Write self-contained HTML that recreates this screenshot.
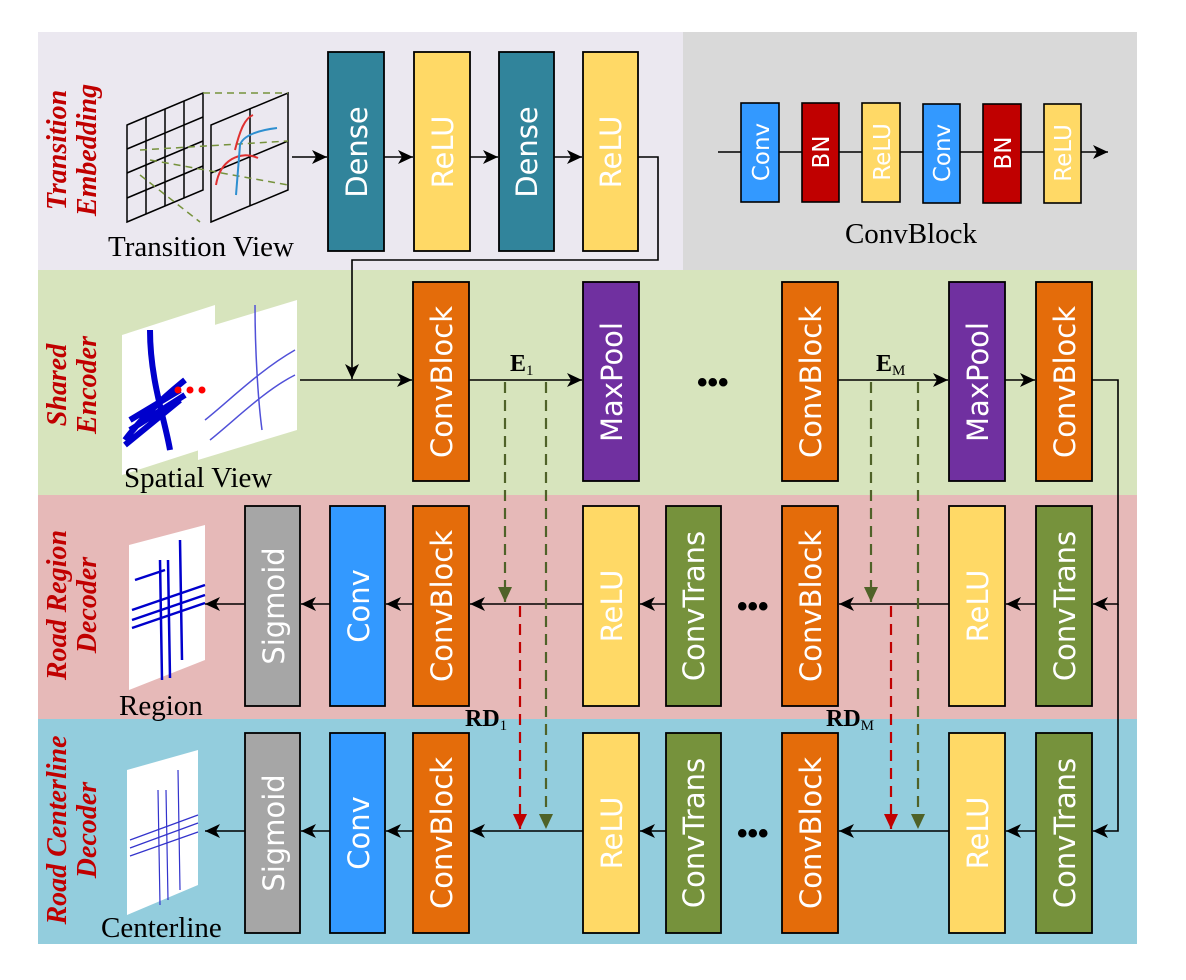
<!DOCTYPE html>
<html><head><meta charset="utf-8"><style>
html,body{margin:0;padding:0;background:#fff;}
svg{display:block}
.bt{font-family:"DejaVu Sans","Liberation Sans",sans-serif;fill:#fff;font-size:29px;}
.st{font-family:"DejaVu Sans","Liberation Sans",sans-serif;fill:#fff;font-size:23px;}
.lab{font-family:"Liberation Serif",serif;font-size:29px;fill:#000;}
.side{font-family:"Liberation Serif",serif;font-size:28px;font-weight:bold;font-style:italic;fill:#c00000;}
</style></head><body>
<svg width="1186" height="980" viewBox="0 0 1186 980" xmlns="http://www.w3.org/2000/svg">
<defs>
<marker id="ab" markerWidth="16" markerHeight="14" refX="15" refY="7" orient="auto" markerUnits="userSpaceOnUse"><path d="M0,0 L15,7 L0,14 L4,7z" fill="#000"/></marker>
<marker id="ag" markerWidth="16" markerHeight="14" refX="15" refY="7" orient="auto" markerUnits="userSpaceOnUse"><path d="M0,0 L15,7 L0,14z" fill="#4f6228"/></marker>
<marker id="ar" markerWidth="16" markerHeight="14" refX="15" refY="7" orient="auto" markerUnits="userSpaceOnUse"><path d="M0,0 L15,7 L0,14z" fill="#c00000"/></marker>
</defs>
<rect x="38" y="32" width="645" height="238" fill="#ebe8f0"/>
<rect x="683" y="32" width="454" height="238" fill="#d9d9d9"/>
<rect x="38" y="270" width="1099" height="225" fill="#d7e4bd"/>
<rect x="38" y="495" width="1099" height="224" fill="#e6b9b8"/>
<rect x="38" y="719" width="1099" height="225" fill="#93cddd"/>

<text class="side" transform="translate(66,150) rotate(-90)" text-anchor="middle">Transition</text>
<text class="side" transform="translate(96,150) rotate(-90)" text-anchor="middle">Embedding</text>
<text class="side" transform="translate(66,385) rotate(-90)" text-anchor="middle">Shared</text>
<text class="side" transform="translate(96,385) rotate(-90)" text-anchor="middle">Encoder</text>
<text class="side" transform="translate(66,605) rotate(-90)" text-anchor="middle">Road Region</text>
<text class="side" transform="translate(96,605) rotate(-90)" text-anchor="middle">Decoder</text>
<text class="side" transform="translate(66,830) rotate(-90)" text-anchor="middle">Road Centerline</text>
<text class="side" transform="translate(96,830) rotate(-90)" text-anchor="middle">Decoder</text>

<!-- transition view grids -->
<g stroke="#000" stroke-width="1.5" fill="none">
<path d="M127,222 L203,190 L203,93 L127,125 Z"/>
<path d="M146,117 L146,214 M165,109 L165,206 M184,101 L184,198 M127,149 L203,117 M127,173 L203,141 M127,198 L203,166"/>
<path d="M211,222 L288,190 L288,93 L211,125 Z"/>
<path d="M250,109 L250,206 M211,173 L288,141"/>
</g>
<g stroke="#76923c" stroke-width="1.5" stroke-dasharray="7,5" fill="none">
<path d="M203,93 L288,93 M140,150 L288,141 M150,160 L288,185 M140,175 L200,222"/>
</g>
<path d="M216,185 C220,160 240,150 258,158" stroke="#e03030" stroke-width="2" fill="none"/>
<path d="M235,150 C240,130 245,118 253,115" stroke="#e03030" stroke-width="2" fill="none"/>
<path d="M236,195 L240,145 C243,135 260,130 277,128" stroke="#2e8fd0" stroke-width="2" fill="none"/>
<text class="lab" x="108" y="256">Transition View</text>

<!-- spatial view -->
<polygon points="122,335 215,305 215,445 122,475" fill="#fff"/>
<polygon points="198,330 297,300 297,430 198,460" fill="#fff"/>
<path d="M125,440 C140,420 160,400 185,380 M130,420 L180,390 M150,330 C150,380 165,420 170,450 M125,445 L180,400 M130,430 L185,395" stroke="#0000cc" stroke-width="6" fill="none"/>
<path d="M205,420 C230,400 260,370 295,350 M210,440 C235,420 265,390 295,375 M255,305 C255,350 258,400 262,430" stroke="#5050d8" stroke-width="1.5" fill="none"/>
<circle cx="178" cy="390" r="3.5" fill="red"/><circle cx="190" cy="390" r="3.5" fill="red"/><circle cx="202" cy="390" r="3.5" fill="red"/>
<text class="lab" x="124" y="487">Spatial View</text>

<polygon points="129,545 205,525 205,660 129,690" fill="#fff"/>
<path d="M132,610 L205,585 M132,620 L205,595 M132,628 L205,603 M160,560 L162,680 M168,560 L170,678 M180,540 L182,660 M135,580 L165,570" stroke="#0000cc" stroke-width="2.5" fill="none"/>
<text class="lab" x="119" y="715">Region</text>
<polygon points="127,770 198,750 198,885 127,915" fill="#fff"/>
<path d="M130,840 L198,815 M130,848 L198,823 M130,856 L198,832 M158,790 L160,905 M166,790 L168,900 M178,770 L180,890" stroke="#3333cc" stroke-width="1.2" fill="none"/>
<text class="lab" x="101" y="937">Centerline</text>

<!-- top row -->
<g stroke="#000" stroke-width="1.8">
<rect x="328" y="52" width="56" height="199" fill="#31849b"/>
<rect x="414" y="52" width="56" height="199" fill="#ffd966"/>
<rect x="499" y="52" width="55" height="199" fill="#31849b"/>
<rect x="583" y="52" width="55" height="199" fill="#ffd966"/>
</g>
<text class="bt" transform="translate(367,152) rotate(-90)" text-anchor="middle">Dense</text>
<text class="bt" transform="translate(453,152) rotate(-90)" text-anchor="middle">ReLU</text>
<text class="bt" transform="translate(537,152) rotate(-90)" text-anchor="middle">Dense</text>
<text class="bt" transform="translate(621,152) rotate(-90)" text-anchor="middle">ReLU</text>
<g stroke="#000" stroke-width="1.6" fill="none" marker-end="url(#ab)">
<line x1="292" y1="157" x2="327" y2="157"/>
<line x1="384" y1="157" x2="413" y2="157"/>
<line x1="470" y1="157" x2="498" y2="157"/>
<line x1="554" y1="157" x2="582" y2="157"/>
<path d="M638,157 L658,157 L658,260 L352,260 L352,379"/>
</g>

<line x1="718" y1="152" x2="1108" y2="152" stroke="#000" stroke-width="1.6" marker-end="url(#ab)"/>
<g stroke="#000" stroke-width="1.6">
<rect x="741" y="103" width="38" height="99" fill="#3399ff"/>
<rect x="802" y="103" width="37" height="99" fill="#c00000"/>
<rect x="862" y="103" width="38" height="99" fill="#ffd966"/>
<rect x="923" y="104" width="37" height="99" fill="#3399ff"/>
<rect x="983" y="104" width="38" height="99" fill="#c00000"/>
<rect x="1044" y="104" width="37" height="99" fill="#ffd966"/>
</g>
<text class="st" transform="translate(769,152) rotate(-90)" text-anchor="middle">Conv</text>
<text class="st" transform="translate(829,152) rotate(-90)" text-anchor="middle">BN</text>
<text class="st" transform="translate(890,152) rotate(-90)" text-anchor="middle">ReLU</text>
<text class="st" transform="translate(950,153) rotate(-90)" text-anchor="middle">Conv</text>
<text class="st" transform="translate(1011,153) rotate(-90)" text-anchor="middle">BN</text>
<text class="st" transform="translate(1071,153) rotate(-90)" text-anchor="middle">ReLU</text>
<text class="lab" x="911" y="243" text-anchor="middle">ConvBlock</text>

<g stroke="#000" stroke-width="1.8">
<rect x="413" y="282" width="56" height="199" fill="#e46c0a"/>
<rect x="583" y="282" width="56" height="199" fill="#7030a0"/>
<rect x="782" y="282" width="56" height="199" fill="#e46c0a"/>
<rect x="949" y="282" width="56" height="199" fill="#7030a0"/>
<rect x="1036" y="282" width="56" height="199" fill="#e46c0a"/>
</g>
<text class="bt" transform="translate(452,382) rotate(-90)" text-anchor="middle">ConvBlock</text>
<text class="bt" transform="translate(622,382) rotate(-90)" text-anchor="middle">MaxPool</text>
<text class="bt" transform="translate(821,382) rotate(-90)" text-anchor="middle">ConvBlock</text>
<text class="bt" transform="translate(988,382) rotate(-90)" text-anchor="middle">MaxPool</text>
<text class="bt" transform="translate(1075,382) rotate(-90)" text-anchor="middle">ConvBlock</text>
<g stroke="#000" stroke-width="1.6" fill="none" marker-end="url(#ab)">
<line x1="300" y1="380" x2="412" y2="380"/>
<line x1="469" y1="380" x2="582" y2="380"/>
<line x1="838" y1="380" x2="948" y2="380"/>
<line x1="1005" y1="380" x2="1035" y2="380"/>
<path d="M1092,380 L1118,380 L1118,604 L1093,604"/>
<path d="M1118,604 L1118,831 L1093,831"/>
</g>
<text x="510" y="371" font-family="Liberation Serif,serif" font-size="24" font-weight="bold">E<tspan font-size="15" font-weight="normal" dy="4">1</tspan></text>
<text x="876" y="371" font-family="Liberation Serif,serif" font-size="24" font-weight="bold">E<tspan font-size="15" font-weight="normal" dy="4">M</tspan></text>
<text x="697" y="392" font-family="Liberation Sans,sans-serif" font-size="30" font-weight="bold">•••</text>

<g id="row">
<g stroke="#000" stroke-width="1.8">
<rect x="245" y="506" width="55" height="200" fill="#a6a6a6"/>
<rect x="330" y="506" width="55" height="200" fill="#3399ff"/>
<rect x="413" y="506" width="56" height="200" fill="#e46c0a"/>
<rect x="583" y="506" width="56" height="200" fill="#ffd966"/>
<rect x="666" y="506" width="55" height="200" fill="#76923c"/>
<rect x="782" y="506" width="56" height="200" fill="#e46c0a"/>
<rect x="949" y="506" width="56" height="200" fill="#ffd966"/>
<rect x="1036" y="506" width="56" height="200" fill="#76923c"/>
</g>
<text class="bt" transform="translate(284,606) rotate(-90)" text-anchor="middle">Sigmoid</text>
<text class="bt" transform="translate(369,606) rotate(-90)" text-anchor="middle">Conv</text>
<text class="bt" transform="translate(452,606) rotate(-90)" text-anchor="middle">ConvBlock</text>
<text class="bt" transform="translate(622,606) rotate(-90)" text-anchor="middle">ReLU</text>
<text class="bt" transform="translate(704,606) rotate(-90)" text-anchor="middle">ConvTrans</text>
<text class="bt" transform="translate(821,606) rotate(-90)" text-anchor="middle">ConvBlock</text>
<text class="bt" transform="translate(988,606) rotate(-90)" text-anchor="middle">ReLU</text>
<text class="bt" transform="translate(1075,606) rotate(-90)" text-anchor="middle">ConvTrans</text>
<g stroke="#000" stroke-width="1.6" fill="none" marker-end="url(#ab)">
<line x1="245" y1="604" x2="205" y2="604"/>
<line x1="330" y1="604" x2="301" y2="604"/>
<line x1="413" y1="604" x2="386" y2="604"/>
<line x1="583" y1="604" x2="470" y2="604"/>
<line x1="666" y1="604" x2="640" y2="604"/>
<line x1="949" y1="604" x2="839" y2="604"/>
<line x1="1036" y1="604" x2="1006" y2="604"/>
</g>
<text x="737" y="616" font-family="Liberation Sans,sans-serif" font-size="30" font-weight="bold">•••</text>
</g>
<use href="#row" y="227"/>

<g stroke="#4f6228" stroke-width="2.2" stroke-dasharray="11,7" fill="none">
<line x1="505" y1="382" x2="505" y2="602" marker-end="url(#ag)"/>
<line x1="546" y1="382" x2="546" y2="829" marker-end="url(#ag)"/>
<line x1="871" y1="382" x2="871" y2="602" marker-end="url(#ag)"/>
<line x1="918" y1="382" x2="918" y2="829" marker-end="url(#ag)"/>
</g>
<g stroke="#c00000" stroke-width="2.2" stroke-dasharray="11,7" fill="none">
<line x1="520" y1="606" x2="520" y2="829" marker-end="url(#ar)"/>
<line x1="891" y1="606" x2="891" y2="829" marker-end="url(#ar)"/>
</g>
<text x="465" y="726" font-family="Liberation Serif,serif" font-size="24" font-weight="bold">RD<tspan font-size="15" font-weight="normal" dy="4">1</tspan></text>
<text x="826" y="726" font-family="Liberation Serif,serif" font-size="24" font-weight="bold">RD<tspan font-size="15" font-weight="normal" dy="4">M</tspan></text>
</svg>
</body></html>
